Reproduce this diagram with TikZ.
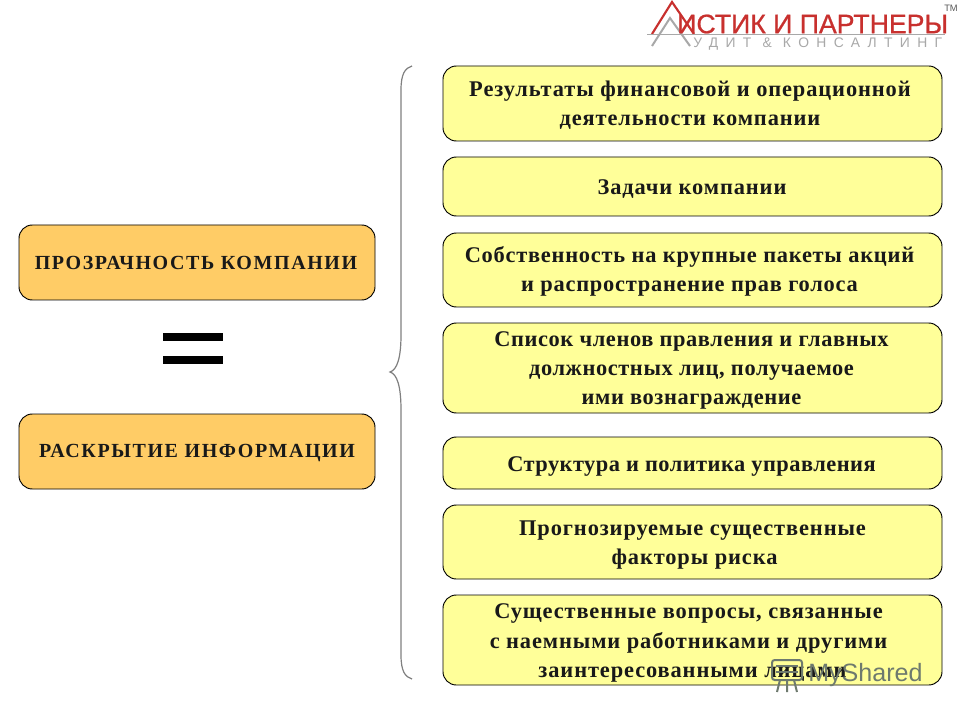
\documentclass[tikz,border=0pt]{standalone}
\usepackage{fontspec}
\setmainfont{Liberation Serif}
\newfontfamily\logofont{Liberation Sans}
\definecolor{boxyellow}{HTML}{FFFF99}
\definecolor{boxorange}{HTML}{FFCC66}
\definecolor{logored}{HTML}{C8302E}
\definecolor{logogray}{HTML}{A8A8A8}
\definecolor{bracegray}{HTML}{808080}
\definecolor{markgray}{HTML}{6E7A6E}
\tikzset{
  box/.style={draw=black,line width=0.7pt,rounded corners=10pt,inner sep=0pt},
  yellowbox/.style={box,fill=boxyellow,minimum width=374.25pt},
  orangebox/.style={box,fill=boxorange,minimum width=267pt,minimum height=56.25pt},
  boxtext/.style={align=center,inner sep=0pt,text=black!90,font=\fontsize{16.8}{21.8}\selectfont\bfseries\addfontfeature{LetterSpace=#1}},
  boxtext/.default=4,
  headtext/.style={align=center,inner sep=0pt,text=black!90,font=\fontsize{15}{18}\selectfont\bfseries\addfontfeature{LetterSpace=8}},
  bar/.style={fill=black,draw=none,minimum width=45pt,minimum height=6pt,inner sep=0pt},
  bracket/.style={draw=bracegray,line width=0.9pt}
}
\begin{document}
\begin{tikzpicture}[x=0.75pt,y=-0.75pt]
\useasboundingbox (0,0) rectangle (960,720);
\fill[white] (0,0) rectangle (960,720);
% yellow boxes
\node[yellowbox,minimum height=56.25pt] (b1) at (692.5,103.5) {};
\node[yellowbox,minimum height=44.25pt] (b2) at (692.5,186.5) {};
\node[yellowbox,minimum height=55.5pt] (b3) at (692.5,270) {};
\node[yellowbox,minimum height=67.5pt] (b4) at (692.5,368) {};
\node[yellowbox,minimum height=39pt] (b5) at (692.5,463) {};
\node[yellowbox,minimum height=55.5pt] (b6) at (692.5,542) {};
\node[yellowbox,minimum height=67.5pt] (b7) at (692.5,640) {};
\node[boxtext] (t1) at (690,105.5) {Результаты финансовой и операционной\\деятельности компании};
\node[boxtext] (t2) at (692,189.5) {Задачи компании};
\node[boxtext=3.4] (t3) at (689.5,271) {Собственность на крупные пакеты акций\\и распространение прав голоса};
\node[boxtext=2.7] (t4) at (691.5,370.5) {Список членов правления и главных\\должностных лиц, получаемое\\ими вознаграждение};
\node[boxtext=2.1] (t5) at (691.5,466) {Структура и политика управления};
\node[boxtext] (t6) at (692.5,545.5) {Прогнозируемые существенные\\\hspace*{3pt}факторы риска};
\node[boxtext] (t7) at (688.5,643) {Существенные вопросы, связанные\\с наемными работниками и другими\\\hspace*{6pt}заинтересованными лицами};
% left boxes
\node[orangebox] (l1) at (197,262.5) {};
\node[orangebox] (l2) at (197,451.5) {};
\node[headtext] (h1) at (196,262.5) {ПРОЗРАЧНОСТЬ КОМПАНИИ};
\node[headtext] (h2) at (197,453.5) {РАСКРЫТИЕ ИНФОРМАЦИИ};
\node[bar] (e1) at (193,337) {};
\node[bar] (e2) at (193,360) {};
% brace
\coordinate (bt) at (412,66);
\coordinate (bm) at (390,372);
\coordinate (bb) at (412,679);
\draw[bracket] (bt) .. controls (405,68) and (401,74) .. (401,90) -- (401,335) .. controls (401,358) and (397,370) .. (bm) .. controls (397,374) and (401,386) .. (401,410) -- (401,655) .. controls (401,671) and (405,677) .. (bb);
% logo
\coordinate (la) at (672,2);
\coordinate (lb) at (652,34);
\coordinate (lc) at (694,34);
\coordinate (ga) at (670,18);
\coordinate (gb) at (652,46);
\coordinate (gc) at (690,46);
\draw[logogray,line width=1.5pt] (gb) -- (ga) -- (gc);
\draw[logored,line width=1.6pt] (lb) -- (la) -- (lc);
\draw[logogray,line width=1pt] (647,34.7) -- (945,34.7);
\node[inner sep=0pt,anchor=west,text=logored,font=\logofont\fontsize{20}{22}\selectfont\addfontfeature{FakeBold=0.8}] (lt) at (677,24) {ИСТИК И ПАРТНЕРЫ};
\node[inner sep=0pt,anchor=west,text=logogray,font=\logofont\fontsize{10.4}{12}\selectfont\addfontfeature{LetterSpace=53}] (ls) at (693,44) {УДИТ \& КОНСАЛТИНГ};
\node[inner sep=0pt,anchor=west,text=black!65,font=\logofont\fontsize{7}{8}\selectfont] (tm) at (944,8) {TM};
% watermark
\node[inner sep=0pt,anchor=west,text=markgray,font=\logofont\fontsize{18.8}{20}\selectfont] (ms) at (808,675) {MyShared};
\draw[markgray,line width=1.5pt,rounded corners=2pt] (772,660) rectangle (802,680);
\draw[markgray,line width=1.2pt] (776,666) -- (798,666) (776,672) -- (798,672);
\draw[markgray,line width=1.5pt] (780,680) -- (777,692) (787,680) -- (787,692) (794,680) -- (797,692);
\end{tikzpicture}
\end{document}
